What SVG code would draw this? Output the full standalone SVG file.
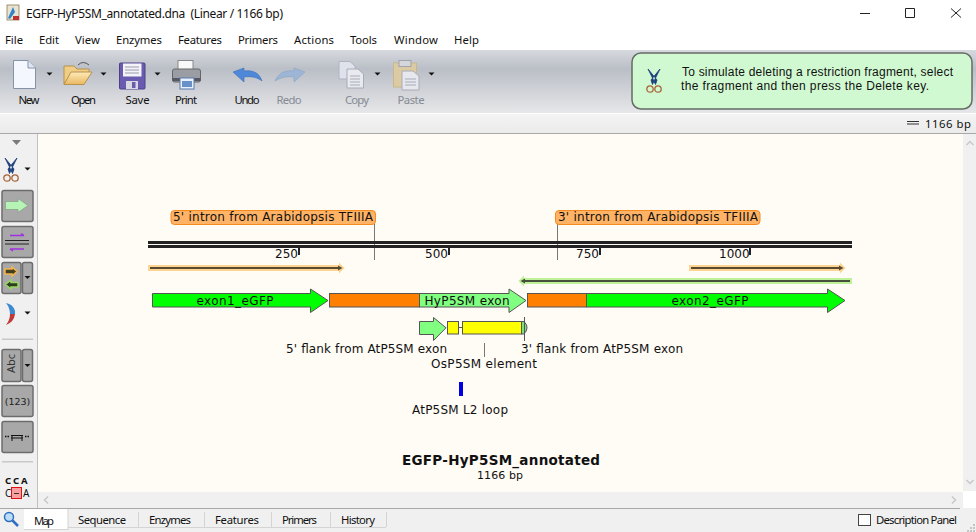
<svg xmlns="http://www.w3.org/2000/svg" width="976" height="532" viewBox="0 0 976 532">
<style>
.ui{font-family:"Noto Sans","Open Sans","Liberation Sans",sans-serif;font-size:11.3px;fill:#111}
.ttl{font-size:12px}
.hint{font-family:"Liberation Sans",Arial,sans-serif;font-size:12px;fill:#111}
.dim{fill:#868a94}
.map{font-family:"DejaVu Sans","Liberation Sans",sans-serif;font-size:12px;fill:#111}
.mid{text-anchor:middle}
.btn{fill:#a8a8a8;stroke:#6c6c6c;stroke-width:1.5}
.feat{stroke:#555;stroke-width:1}
.dd{fill:#111}
</style>
<defs>
<linearGradient id="tbg" x1="0" y1="0" x2="0" y2="1"><stop offset="0" stop-color="#d6d9de"/><stop offset=".3" stop-color="#babec6"/><stop offset="1" stop-color="#e6e7e9"/></linearGradient>
<linearGradient id="strip" x1="0" y1="0" x2="0" y2="1"><stop offset="0" stop-color="#f4f4f4"/><stop offset="1" stop-color="#ebebeb"/></linearGradient>
<linearGradient id="folder" x1="0" y1="0" x2="0" y2="1"><stop offset="0" stop-color="#fdeab8"/><stop offset="1" stop-color="#eab862"/></linearGradient>
<g id="scissors">
<path d="M-6-12-1.500-3 1.500 3.500 3-1ZM6-12 1.500-3-1.500 3.500-3-1Z" fill="#1d3f7c" stroke="#1d3f7c" stroke-width=".8"/>
<circle cx="-4" cy="8" r="3.200" fill="none" stroke="#a8643a" stroke-width="1.300"/>
<circle cx="4" cy="8" r="3.200" fill="none" stroke="#a8643a" stroke-width="1.300"/>
</g>
<path id="ddarrow" d="M-3-1.500H3L0 1.500Z" class="dd"/>
</defs>

<g id="window-chrome">
<rect width="976" height="532" fill="#fff"/>
<rect x="7" y="5" width="12" height="15" fill="#e9e4d2" stroke="#8a7c50" stroke-width=".8"/>
<path d="M8 18 13 7 15 12 10 19Z" fill="#2e86c8"/>
<rect x="13" y="16" width="6" height="4" fill="#c03030"/>
<text class="ui ttl" x="26" y="18" xml:space="preserve" textLength="257">EGFP-HyP5SM_annotated.dna  (Linear / 1166 bp)</text>
<path d="M860 13.500H870M905.500 8.500H914.500V17.500H905.500ZM951 8.500 961 17.500M961 8.500 951 17.500" fill="none" stroke="#222" stroke-width="1"/>
<g id="menu">
<text class="ui" x="5" y="44" textLength="18">File</text><text class="ui" x="39" y="44" textLength="20">Edit</text><text class="ui" x="75" y="44" textLength="25">View</text><text class="ui" x="116" y="44" textLength="46">Enzymes</text><text class="ui" x="178" y="44" textLength="44">Features</text><text class="ui" x="238" y="44" textLength="40">Primers</text><text class="ui" x="294" y="44" textLength="40">Actions</text><text class="ui" x="350" y="44" textLength="27">Tools</text><text class="ui" x="394" y="44" textLength="44">Window</text><text class="ui" x="454" y="44" textLength="25">Help</text>
</g>
<rect y="50" width="976" height="63" fill="url(#tbg)"/>
<rect y="113" width="976" height="20" fill="url(#strip)"/>
<rect y="113" width="976" height="1" fill="#fff"/>
<rect y="133" width="976" height="1" fill="#a8a8a8"/>
</g>

<g id="toolbar">
<g id="tb-new"><path d="M13.500 60.500H28L35.500 68V88.500H13.500Z" fill="#f4f7fd" stroke="#8593a8"/><path d="M28 60.500V68H35.500" fill="#dfe6f2" stroke="#8593a8"/><use href="#ddarrow" x="49.500" y="74"/><text class="ui" x="18.500" y="104" textLength="21">New</text></g>
<g id="tb-open"><path d="M64 66H74L77 69H89V74H71L64 84Z" fill="#f0cd85" stroke="#b8924c"/><path d="M71 72H92L84 84.500H64Z" fill="url(#folder)" stroke="#b8924c"/><path d="M78 65Q83 60 89 65" fill="none" stroke="#555"/><use href="#ddarrow" x="103.500" y="74"/><text class="ui" x="71" y="104" textLength="25">Open</text></g>
<g id="tb-save"><rect x="119.500" y="63" width="25.500" height="26" rx="1" fill="#6a5ab0" stroke="#4b4088"/><rect x="123" y="63.500" width="18.500" height="13" fill="#f4f4f8"/><path d="M125 67H139M125 70H139M125 73H139" stroke="#9a9ab0"/><rect x="126" y="81" width="12" height="8" fill="#d8d8e0"/><rect x="132" y="82" width="3.500" height="6" fill="#6a5ab0"/><use href="#ddarrow" x="157.500" y="74"/><text class="ui" x="125.500" y="104" textLength="24">Save</text></g>
<g id="tb-print"><rect x="178" y="60.500" width="15" height="10" fill="#f8f8f8" stroke="#888"/><rect x="172.500" y="69" width="28" height="13" rx="2" fill="#9a9ea4" stroke="#666"/><rect x="172.500" y="78" width="28" height="3" fill="#55585e"/><rect x="180" y="78" width="14" height="11" fill="#e8f0fa" stroke="#5a7ab0"/><rect x="182" y="81" width="10" height="6" fill="#6a90c8"/><text class="ui" x="175" y="104" textLength="22">Print</text></g>
<g id="tb-undo"><path d="M233 72 244 68V71C252 70 259 72 262 81 257 77 250 76 244 77V82Z" fill="#4f88d8" stroke="#3d70b8" stroke-width=".6"/><text class="ui" x="234.500" y="104" textLength="25">Undo</text></g>
<g id="tb-redo"><path d="M305 72 294 68V71C286 70 279 72 275 81 281 77 288 76 294 77V82Z" fill="#9db6d6" stroke="#8aa4c4" stroke-width=".6"/><text class="ui dim" x="276.500" y="104" textLength="25">Redo</text></g>
<g id="tb-copy"><path d="M339 61.500H350L355 66V79H339Z" fill="#dfe2ea" stroke="#b0b4c0"/><path d="M347 69H358L363.500 74V88H347Z" fill="#e8eaf0" stroke="#a8acb8"/><path d="M350 76H360M350 79H360M350 82H360M350 85H360" stroke="#a8acb8"/><use href="#ddarrow" x="377.500" y="74"/><text class="ui dim" x="345" y="104" textLength="24">Copy</text></g>
<g id="tb-paste"><rect x="393.500" y="63" width="23" height="24" fill="#dccba2" stroke="#c8b890"/><rect x="399" y="60.500" width="12" height="6" fill="#d4d6da" stroke="#a0a4ac"/><path d="M402 71H413L419 76V90H402Z" fill="#e6e8ee" stroke="#a8acb8"/><path d="M405 79H416M405 82H416M405 85H416" stroke="#a8acb8"/><use href="#ddarrow" x="431.500" y="74"/><text class="ui dim" x="397.500" y="104" textLength="27">Paste</text></g>
</g>

<g id="hint">
<rect x="632" y="53" width="340" height="56" rx="9" fill="#d1f9d1" stroke="#666b66" stroke-width="1.500"/>
<use href="#scissors" x="654" y="81"/>
<text class="hint" x="682" y="76" textLength="271">To simulate deleting a restriction fragment, select</text>
<text class="hint" x="681" y="90" textLength="248">the fragment and then press the Delete key.</text>
</g>

<g id="length-readout">
<path d="M907 121.500H919M907 124H919" stroke="#333" stroke-width="1.200"/>
<text class="ui" x="925" y="128" textLength="46">1166 bp</text>
</g>

<g id="canvas">
<rect x="38" y="134" width="925" height="358" fill="#fffbf5"/>
<rect x="963" y="134" width="13" height="357" fill="#f0f0f0"/>
<path d="M966.500 145 970 141.500 973.500 145M966.500 480 970 483.500 973.500 480" fill="none" stroke="#c8c8c8" stroke-width="1.500"/>
<rect x="38" y="492" width="925" height="16" fill="#f0f0f0"/>
<rect x="963" y="491" width="13" height="17" fill="#fff"/>
<path d="M48 496.500 44.500 500 48 503.500M952 496.500 955.500 500 952 503.500" fill="none" stroke="#c8c8c8" stroke-width="1.500"/>
</g>

<g id="left-panel">
<rect y="134" width="37" height="374" fill="#f0f0f0"/>
<rect x="37" y="134" width="1" height="374" fill="#c0c0c0"/>
<path d="M12 140H21L16.500 145Z" fill="#7a7a7a"/>
<use href="#scissors" x="11" y="170"/>
<use href="#ddarrow" x="27.500" y="169"/>
<g id="btn-feature"><rect x="2" y="190.500" width="31" height="31" rx="2" class="btn"/><path d="M5.500 201.500H18V198.500L28 205.500 18 212.500V209.500H5.500Z" fill="#b6f4b6" stroke="#8a9a8a" stroke-width=".7"/></g>
<g id="btn-primers"><rect x="2" y="226.500" width="31" height="31" rx="2" class="btn"/><path d="M5 240.500H29M5 244H29" stroke="#222" stroke-width="1.200"/><path d="M10 235.500H24M24 235.500 21 233.500M24 249H10M10 249 13 251" fill="none" stroke="#a030e0" stroke-width="1.500"/></g>
<g id="btn-orf"><rect x="2" y="262.500" width="19" height="31" rx="2" class="btn"/><rect x="22.500" y="262.500" width="10" height="31" rx="2" class="btn"/><path d="M5 269H12V267L17 271.500 12 276V274H5Z" fill="#44401e" stroke="#f0b450" stroke-width="1.500"/><path d="M18 282.500H11V280L5.500 284.500 11 289V287H18Z" fill="#2c3c20" stroke="#98d860" stroke-width="1.500"/><use href="#ddarrow" x="27.500" y="277.500"/></g>
<g id="btn-curve"><path d="M6 303Q13 304 15 311V314H10Q10 308 6 303Z" fill="#3c8ad0"/><path d="M10 314H15Q14 322 6 325 10 320 10 314Z" fill="#c03838"/><use href="#ddarrow" x="27.500" y="313"/></g>
<rect x="2" y="338.500" width="31" height="1.500" fill="#c8c8c8"/>
<g id="btn-abc"><rect x="2" y="349.500" width="19" height="32" rx="2" class="btn"/><rect x="22.500" y="349.500" width="10" height="32" rx="2" class="btn"/><text class="ui" transform="translate(15 373)rotate(-90)" style="font-size:11px;fill:#333">Abc</text><use href="#ddarrow" x="27.500" y="365.500"/></g>
<g id="btn-123"><rect x="2" y="385.500" width="31" height="31" rx="2" class="btn"/><text class="map mid" x="17.500" y="404.500" style="font-size:9.500px;fill:#222">(123)</text></g>
<g id="btn-ruler"><rect x="2" y="421.500" width="31" height="31" rx="2" class="btn"/><path d="M11 435.500H23M11 438H23" stroke="#111" stroke-width="1.200"/><path d="M12 436V441M22 436V441" stroke="#111"/><path d="M5 436.500H9M25 436.500H29" stroke="#111" stroke-width="1.500" stroke-dasharray="1.500 1"/></g>
<rect x="2" y="461" width="31" height="1.500" fill="#c8c8c8"/>
<g id="align-icon"><rect x="11.500" y="487.500" width="10" height="11" fill="#f8a0a0" stroke="#e01010"/><path d="M14 493.500H19" stroke="#333"/>
<text class="ui" x="5" y="484" style="font-size:9.500px;font-weight:bold;letter-spacing:2px">CCA</text><text class="ui" x="5" y="497" style="font-size:10px">C</text><text class="ui" x="23" y="497" style="font-size:10px">A</text></g>
</g>

<g id="tabs">
<rect y="508" width="976" height="24" fill="#f0f0f0"/>
<rect y="508" width="960" height="1" fill="#a8a8a8"/>
<circle cx="9" cy="517" r="4.500" fill="#bcdcf8" stroke="#2e70c0" stroke-width="1.500"/><path d="M12.500 520.500 18 526" stroke="#2e70c0" stroke-width="2.500"/>
<rect x="24" y="509" width="44" height="20" fill="#fff"/>
<path d="M24 529.500H68M68 509V530M138.500 512V527M204.500 512V527M271.500 512V527M330.500 512V527M386.500 512V527M68 527.500H386" stroke="#d4d4d4" fill="none"/>
<text class="ui" x="34" y="525" textLength="20">Map</text><text class="ui" x="78" y="524" textLength="48">Sequence</text><text class="ui" x="149" y="524" textLength="42">Enzymes</text><text class="ui" x="215" y="524" textLength="44">Features</text><text class="ui" x="282" y="524" textLength="35">Primers</text><text class="ui" x="341" y="524" textLength="34">History</text>
<rect x="858.500" y="514.500" width="12" height="11" fill="#fff" stroke="#444"/>
<text class="ui" x="876" y="524" textLength="81">Description Panel</text>
<path d="M973 524h2v2h-2zM970 527h2v2h-2zM973 527h2v2h-2zM967 530h2v2h-2zM970 530h2v2h-2zM973 530h2v2h-2z" fill="#c4c4c4"/>
</g>

<g id="connectors" fill="none">
<path d="M374.500 224V260M557.500 224V260M484.500 343V357" stroke="#777"/>
</g>

<g id="sequence-ruler">
<rect x="148" y="241" width="704" height="3" fill="#222"/>
<rect x="148" y="245" width="704" height="3" fill="#222"/>
<path d="M299 248V255M449 248V255M600 248V255M750 248V255" stroke="#222" stroke-width="2"/>
<text class="map" x="275" y="258">250</text><text class="map" x="425" y="258">500</text><text class="map" x="576" y="258">750</text><text class="map" x="719" y="258">1000</text>
</g>

<g id="primer-fwd-1"><path d="M148 265H339V262.500L344.500 268 339 273.500V271H148Z" fill="#fdd492"/><path d="M150 268H340" stroke="#5a4a30" stroke-width="2"/><path d="M338 265.500 342.500 268 338 270.500Z" fill="#5a4a30"/></g>
<g id="primer-fwd-2"><path d="M689 265H840V262.500L845.500 268 840 273.500V271H689Z" fill="#fdd492"/><path d="M691 268H841" stroke="#5a4a30" stroke-width="2"/><path d="M839 265.500 843.500 268 839 270.500Z" fill="#5a4a30"/></g>
<g id="primer-rev"><path d="M852 278V284H524V286.500L518.500 281 524 275.500V278Z" fill="#bff09a"/><path d="M850 281H523" stroke="#46503a" stroke-width="2"/><path d="M525 278.500 520.500 281 525 283.500Z" fill="#46503a"/></g>

<g id="feature-exon1"><path d="M152.500 293.500H310.500V289L328 300.500 310.500 312.500V307H152.500Z" fill="#00ff00" class="feat"/><text class="map mid" x="235" y="305" textLength="77">exon1_eGFP</text></g>
<g id="feature-intron5"><rect x="329.500" y="293.500" width="90" height="13.500" fill="#ff8000" class="feat"/></g>
<g id="feature-hyp5sm"><path d="M419.500 293.500H509V289L526 300.500 509 312.500V307H419.500Z" fill="#80ff80" class="feat"/><text class="map mid" x="467" y="305" textLength="85">HyP5SM exon</text></g>
<g id="feature-intron3"><rect x="527.500" y="293.500" width="59" height="13.500" fill="#ff8000" class="feat"/></g>
<g id="feature-exon2"><path d="M586.500 293.500H827.500V289L845 300.500 827.500 312.500V307H586.500Z" fill="#00ff00" class="feat"/><text class="map mid" x="710" y="305" textLength="77">exon2_eGFP</text></g>

<g id="feature-flank5"><path d="M419.500 321.500H433.500V317.500L446 327.800 433.500 340.500V334.500H419.500Z" fill="#80ff80" class="feat"/><text class="map" x="286" y="353" textLength="161">5' flank from AtP5SM exon</text></g>
<g id="feature-osp5sm"><path d="M458.500 327.500H462.500" stroke="#555"/><rect x="447.500" y="321.500" width="11" height="12.500" fill="#ffff00" class="feat"/><rect x="462.500" y="321.500" width="59" height="12.500" fill="#ffff00" class="feat"/><text class="map" x="431" y="368" textLength="106">OsP5SM element</text></g>
<g id="feature-flank3"><path d="M521.500 321.500H524Q527.500 325 527 327.800 527 331 524 334H521.500Z" fill="#80e080" class="feat"/><path d="M524.500 317V341" stroke="#555"/><text class="map" x="521" y="353" textLength="162">3' flank from AtP5SM exon</text></g>
<g id="feature-l2loop"><rect x="459" y="382" width="4" height="14" fill="#0000e0"/><text class="map" x="412" y="414" textLength="96">AtP5SM L2 loop</text></g>

<g id="callout-intron5"><rect x="171" y="210.500" width="204.500" height="14" rx="3.500" fill="#ffb366" stroke="#f58a1e"/><text class="map" x="173" y="220.500" textLength="200">5' intron from Arabidopsis TFIIIA</text></g>
<g id="callout-intron3"><rect x="555.500" y="210.500" width="204.500" height="14" rx="3.500" fill="#ffb366" stroke="#f58a1e"/><text class="map" x="558" y="220.500" textLength="200">3' intron from Arabidopsis TFIIIA</text></g>

<g id="map-title">
<text class="map mid" x="501" y="465" style="font-weight:bold;font-size:13.500px" textLength="198">EGFP-HyP5SM_annotated</text>
<text class="map mid" x="500" y="479" style="font-size:11px" textLength="46">1166 bp</text>
</g>
</svg>
